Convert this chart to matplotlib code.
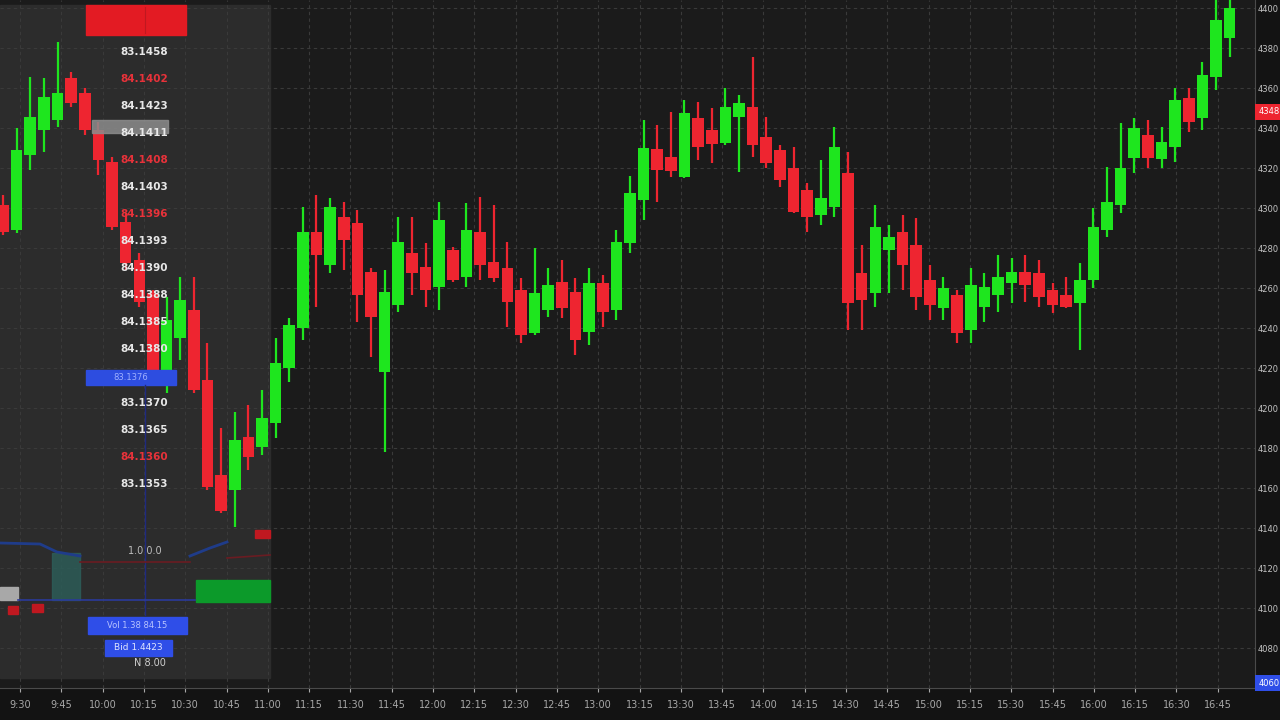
import matplotlib.pyplot as plt
import matplotlib.patches as mpatches
import matplotlib.transforms as mtransforms

# OHLC per candle
opens = [4301.5, 4289, 4326.5, 4339, 4344, 4365, 4357.5, 4339, 4323, 4293,
         4274, 4257.5, 4214, 4235, 4249, 4214, 4166.5, 4159, 4185.5, 4180.5,
         4192.5, 4220, 4240, 4288, 4271.5, 4295.5, 4292.5, 4268, 4218, 4251.5,
         4277.5, 4270.5, 4260.5, 4279, 4265.5, 4288, 4273, 4270, 4259, 4237.5,
         4249, 4263, 4258, 4238, 4262.5, 4249, 4282.5, 4304, 4329.5, 4325.5,
         4315.5, 4345, 4339, 4332.5, 4345.5, 4350.5, 4335.5, 4329, 4320, 4309,
         4296.5, 4300.5, 4317.5, 4267.5, 4257.5, 4279, 4288, 4281.5, 4264, 4250,
         4256.5, 4239, 4250.5, 4256.5, 4262.5, 4268, 4267.5, 4259, 4256.5, 4252.5,
         4264, 4289, 4301.5, 4325, 4336.5, 4324.5, 4330.5, 4355, 4345, 4365.5,
         4385]
closes = [4288, 4329, 4345.5, 4355.5, 4357.5, 4352.5, 4339, 4324, 4290.5, 4272.5,
          4253, 4219, 4244, 4254, 4209, 4160.5, 4148.5, 4184, 4175.5, 4195,
          4222.5, 4241.5, 4288, 4276.5, 4300.5, 4284, 4256.5, 4245.5, 4258, 4283,
          4267.5, 4259, 4294, 4264, 4289, 4271.5, 4265, 4253, 4236.5, 4257.5,
          4261.5, 4250, 4234, 4262.5, 4248, 4283, 4307.5, 4330, 4319, 4318.5,
          4347.5, 4330.5, 4332, 4350.5, 4352.5, 4331.5, 4322.5, 4314, 4298, 4295.5,
          4305, 4330.5, 4252.5, 4254, 4290.5, 4285.5, 4271.5, 4255.5, 4251.5, 4260,
          4237.5, 4261.5, 4260.5, 4265.5, 4268, 4261.5, 4255.5, 4251.5, 4250.5, 4264,
          4290.5, 4303, 4320, 4340, 4325, 4333, 4354, 4343, 4366.5, 4394,
          4400]
highs = [4306.5, 4340, 4365.5, 4365, 4383, 4368, 4360, 4343, 4325.5, 4297.5,
         4277.5, 4259, 4255.5, 4265.5, 4265.5, 4232.5, 4190, 4198, 4201.5, 4209,
         4235, 4245, 4300.5, 4306.5, 4305, 4303, 4299, 4270, 4269, 4295.5,
         4295.5, 4282.5, 4303, 4280.5, 4302.5, 4305.5, 4301.5, 4283, 4265, 4280,
         4270, 4274, 4265, 4270, 4266.5, 4289, 4316, 4344, 4341.5, 4348,
         4354, 4353, 4350, 4360, 4356.5, 4375.5, 4345.5, 4331.5, 4330.5, 4312.5,
         4324, 4340.5, 4328, 4281.5, 4301.5, 4291.5, 4296.5, 4295, 4271.5, 4265.5,
         4259, 4270, 4267.5, 4276.5, 4275, 4276.5, 4274, 4262.5, 4265.5, 4272.5,
         4300, 4320.5, 4342.5, 4345, 4344, 4340.5, 4360, 4360, 4373, 4406,
         4406]
lows = [4286.5, 4287.5, 4319, 4328, 4340.5, 4350.5, 4336.5, 4316.5, 4289, 4269,
        4250.5, 4217.5, 4207.5, 4224, 4207.5, 4159, 4147.5, 4140.5, 4169, 4176.5,
        4185, 4213, 4234, 4250.5, 4267.5, 4269, 4243, 4225.5, 4178, 4248,
        4256.5, 4250.5, 4249, 4263, 4260.5, 4264, 4263, 4240.5, 4232.5, 4236.5,
        4245.5, 4245, 4226.5, 4231.5, 4240.5, 4244, 4277.5, 4294, 4303, 4315.5,
        4315, 4324, 4322.5, 4331.5, 4318, 4325.5, 4320, 4310.5, 4297.5, 4288,
        4291.5, 4295.5, 4239, 4239, 4250.5, 4257.5, 4259, 4249, 4244, 4244,
        4232.5, 4232.5, 4243, 4248, 4252.5, 4253, 4250.5, 4247.5, 4250, 4229,
        4260, 4285.5, 4297.5, 4317.5, 4320, 4320, 4323, 4338, 4339, 4359,
        4375.5]

price_ticks = [4400, 4380, 4360, 4340, 4320, 4300, 4280, 4260, 4240, 4220,
               4200, 4180, 4160, 4140, 4120, 4100, 4080]
time_labels = ["9:30", "9:45", "10:00", "10:15", "10:30", "10:45", "11:00", "11:15",
               "11:30", "11:45", "12:00", "12:15", "12:30", "12:45", "13:00", "13:15",
               "13:30", "13:45", "14:00", "14:15", "14:30", "14:45", "15:00", "15:15",
               "15:30", "15:45", "16:00", "16:15", "16:30", "16:45"]
last_price = 4348
low_tag_price = 4060

book_labels = ["83.1458", "84.1402", "84.1423", "84.1411", "84.1408", "84.1403",
               "84.1396", "84.1393", "84.1390", "84.1388", "84.1385", "84.1380",
               "83.1376", "83.1370", "83.1365", "84.1360", "83.1353"]
book_colors = ["w", "r", "w", "w", "r", "w", "r", "w", "w", "w", "w", "w",
               "bar", "w", "w", "r", "w"]

GREEN = "#1ee61e"
RED = "#ee2530"
W, H = 1280, 720

fig = plt.figure(figsize=(12.8, 7.2), dpi=100, facecolor="#131313")
ax = fig.add_axes([0, 32 / H, 1255 / W, 688 / H])
ax.set_facecolor("#1b1b1b")

n = len(opens)
xs = list(range(n))
ax.set_xlim(-0.22, -0.22 + 1255 / 13.63)
ax.set_ylim(4060, 4404)

# left info panel behind the candles
ax.add_patch(mpatches.Rectangle((0, 10 / 688), 270 / 1255, 673 / 688,
                                transform=ax.transAxes, color="#2c2c2c", zorder=0.5))

for i in xs:
    up = closes[i] >= opens[i]
    c = GREEN if up else RED
    ax.vlines(i, lows[i], highs[i], color=c, lw=1.6, zorder=2)
    bottom = min(opens[i], closes[i])
    h = max(abs(closes[i] - opens[i]), 0.6)
    ax.bar(i, h, bottom=bottom, width=0.85, color=c, zorder=3)

tick_pos = [1.25 + 3.03 * k for k in range(len(time_labels))]
ax.set_xticks(tick_pos)
ax.set_xticklabels(time_labels)
ax.set_yticks(price_ticks)
ax.set_yticklabels([str(p) for p in price_ticks])
ax.yaxis.tick_right()
ax.tick_params(axis="y", length=0, pad=2, labelsize=6, colors="#c4c4c4")
ax.tick_params(axis="x", length=3, pad=6, labelsize=7, colors="#a8a8a8")
ax.grid(True, color="#3a3a3a", lw=0.8, linestyle=(0, (3, 3)), zorder=1)
ax.set_axisbelow(True)
for s in ["top", "left"]:
    ax.spines[s].set_visible(False)
for s in ["bottom", "right"]:
    ax.spines[s].set_color("#4a4a4a")

# price tags on the right scale
blend = mtransforms.blended_transform_factory(ax.transAxes, ax.transData)
ax.text(1.003, last_price, str(last_price), transform=blend, ha="left", va="center",
        fontsize=6, color="white", clip_on=False,
        bbox=dict(boxstyle="square,pad=0.45", fc=RED, ec="none"))
ax.text(1.003, low_tag_price + 2.5, str(low_tag_price), transform=blend, ha="left",
        va="center", fontsize=6, color="white", clip_on=False,
        bbox=dict(boxstyle="square,pad=0.45", fc="#2f4ee8", ec="none"))

# overlay in pixel coordinates for the left panel widgets
ov = fig.add_axes([0, 0, 1, 1], zorder=5)
ov.set_xlim(0, W)
ov.set_ylim(H, 0)
ov.axis("off")
ov.patch.set_alpha(0)

ov.add_patch(mpatches.Rectangle((86, 5), 100, 30, color="#e31b23"))
ov.plot([145, 145], [7, 33], color="#c01820", lw=0.8)
ov.add_patch(mpatches.Rectangle((92, 120), 76, 13, color="#8c8c8c", alpha=0.85))
ov.add_patch(mpatches.Rectangle((86, 370), 90, 15, color="#2d4de0"))
ov.plot([145, 145], [385, 615], color="#1f2a80", lw=1)

for k, (lab, col) in enumerate(zip(book_labels, book_colors)):
    y = 52 + 27 * k
    if col == "bar":
        ov.text(131, 377.5, lab, ha="center", va="center", fontsize=6,
                color="#9fb0ff")
        continue
    ov.text(168, y, lab, ha="right", va="center", fontsize=7.5, weight="bold",
            color="#e8e8e8" if col == "w" else "#e8323a")

# indicator strip at the bottom of the panel
ov.plot([0, 40, 57, 80], [543, 544, 552, 556], color="#1f3c8a", lw=2)
ov.plot([80, 190], [562, 562], color="#6a1c22", lw=1.2)
ov.plot([190, 210, 227], [556, 548, 542], color="#1f3c8a", lw=2)
ov.plot([227, 270], [558, 555], color="#6a1c22", lw=1.2)
ov.add_patch(mpatches.Rectangle((52, 553), 28, 47, color="#2c5f5a", alpha=0.8))
ov.add_patch(mpatches.Rectangle((0, 587), 18, 13, color="#a8a8a8"))
ov.plot([18, 195], [600, 600], color="#2a3a9a", lw=1.2)
ov.add_patch(mpatches.Rectangle((8, 606), 10, 8, color="#c01820"))
ov.add_patch(mpatches.Rectangle((32, 604), 11, 8, color="#c01820"))
ov.add_patch(mpatches.Rectangle((196, 580), 74, 22, color="#0c9a2a"))
ov.add_patch(mpatches.Rectangle((255, 530), 15, 8, color="#c01820"))
ov.text(145, 551, "1.0 0.0", ha="center", va="center", fontsize=7, color="#bdbdbd")

ov.add_patch(mpatches.Rectangle((88, 617), 99, 17, color="#2f4ee8"))
ov.text(137, 625.5, "Vol 1.38 84.15", ha="center", va="center", fontsize=6,
        color="#b8c4ff")
ov.add_patch(mpatches.Rectangle((105, 640), 67, 16, color="#2f4ee8"))
ov.text(138, 648, "Bid 1.4423", ha="center", va="center", fontsize=6.5,
        color="#dfe5ff")
ov.text(150, 663, "N 8.00", ha="center", va="center", fontsize=7, color="#cfcfcf")

fig.savefig("out.png", dpi=100, facecolor=fig.get_facecolor())
